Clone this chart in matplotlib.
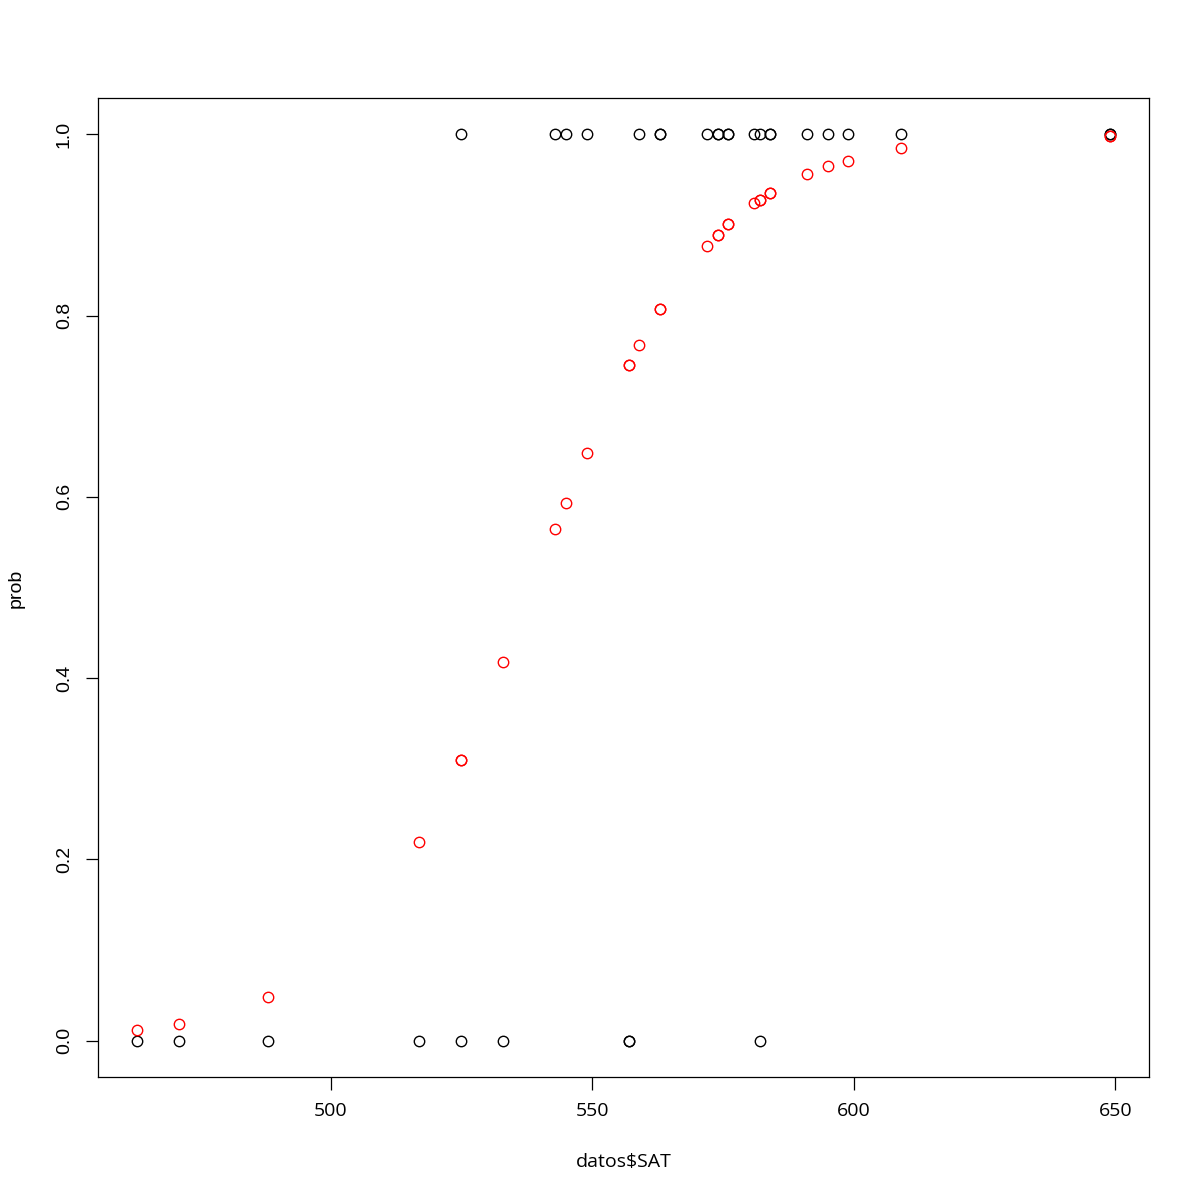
import matplotlib
matplotlib.use("Agg")
import matplotlib.pyplot as plt

# SAT score and observed outcome (0/1)
sat = [463, 471, 488, 517, 525, 525, 533, 543, 545, 549, 557, 557, 559,
       563, 563, 572, 574, 574, 576, 576, 581, 582, 582, 584, 584, 591,
       595, 599, 609, 649, 649]
outcome = [0, 0, 0, 0, 0, 1, 0, 1, 1, 1, 0, 0, 1,
           1, 1, 1, 1, 1, 1, 1, 1, 1, 0, 1, 1, 1,
           1, 1, 1, 1, 1]
# fitted probabilities for each observation
prob = [0.012, 0.019, 0.0485, 0.219, 0.310, 0.310, 0.418, 0.564, 0.593,
        0.648, 0.746, 0.746, 0.768, 0.807, 0.807, 0.877, 0.889, 0.889,
        0.901, 0.901, 0.924, 0.927, 0.927, 0.935, 0.935, 0.956, 0.965,
        0.971, 0.985, 0.998, 0.998]

xticks = [500, 550, 600, 650]
yticks = [0.0, 0.2, 0.4, 0.6, 0.8, 1.0]

fig = plt.figure(figsize=(12, 12), dpi=100)
ax = fig.add_axes([98/1200, 1 - 1077/1200, (1149 - 98)/1200, (1077 - 98)/1200])

ax.plot(sat, outcome, linestyle="none", marker="o", markersize=7.5,
        markerfacecolor="none", markeredgecolor="black", markeredgewidth=1.0)
ax.plot(sat, prob, linestyle="none", marker="o", markersize=7.5,
        markerfacecolor="none", markeredgecolor="red", markeredgewidth=1.0)

pad = (max(sat) - min(sat)) * 0.04
ax.set_xlim(min(sat) - pad, max(sat) + pad)
ax.set_ylim(-0.04, 1.04)

ax.set_xticks(xticks)
ax.set_xticklabels([str(t) for t in xticks], fontsize=14, family="Open Sans")
ax.set_yticks(yticks)
ax.set_yticklabels(["%.1f" % t for t in yticks], fontsize=14,
                   family="Liberation Sans", rotation=90, va="center")
ax.tick_params(axis="both", length=9, width=0.9, direction="out", pad=9)

for s in ax.spines.values():
    s.set_linewidth(0.9)

fig.text(624/1200, 1 - 1162/1200, "datos$SAT", ha="center", va="center",
         fontsize=14, family="Open Sans")
fig.text(16/1200, 1 - 588/1200, "prob", ha="center", va="center",
         fontsize=14, family="Liberation Sans", rotation=90)

fig.savefig("out.png", dpi=100)
